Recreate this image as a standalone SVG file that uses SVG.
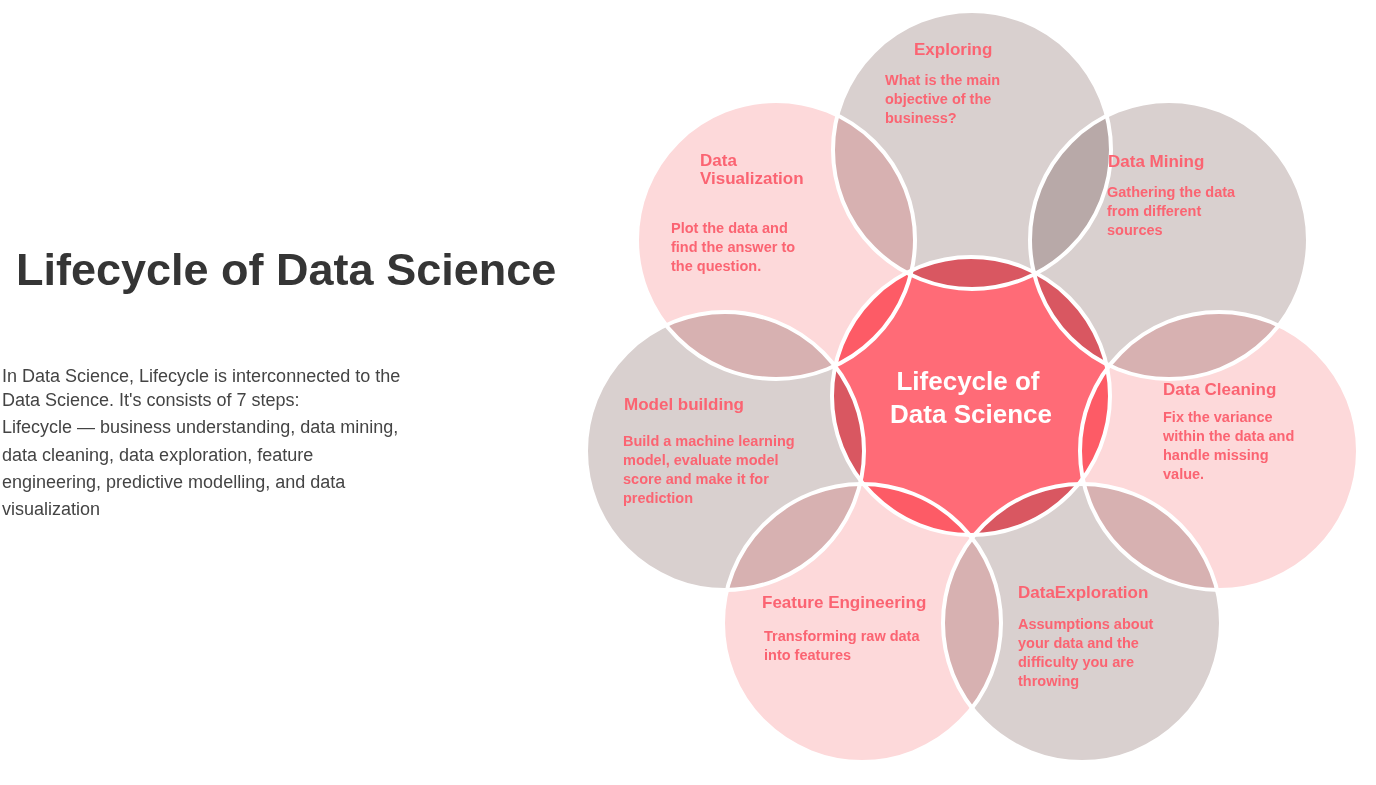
<svg xmlns="http://www.w3.org/2000/svg" width="1376" height="785" viewBox="0 0 1376 785">
<style>
.c{mix-blend-mode:multiply}
.g{fill:#d9d0cf}
.p{fill:#fdd9da}
.s{fill:none;stroke:#fff;stroke-width:4}
.h{font:bold 17px "Liberation Sans",Arial,sans-serif;fill:#fb6472}
.t{font:bold 14.5px "Liberation Sans",Arial,sans-serif;fill:#fb6472}
.b{font:18px "Liberation Sans",Arial,sans-serif;fill:#444}
</style>
<rect width="1376" height="785" fill="#fff"/>
<text x="16" y="285" style="font:bold 45px 'Liberation Sans',Arial,sans-serif;fill:#353535">Lifecycle of Data Science</text>
<g id="desc" class="b">
<text x="2" y="382">In Data Science, Lifecycle is interconnected to the</text>
<text x="2" y="406">Data Science. It's consists of 7 steps:</text>
<text x="2" y="433">Lifecycle — business understanding, data mining,</text>
<text x="2" y="461">data cleaning, data exploration, feature</text>
<text x="2" y="488">engineering, predictive modelling, and data</text>
<text x="2" y="515">visualization</text>
</g>
<g id="circles">
<circle id="exploring" class="c g" cx="972" cy="150" r="139"/>
<circle id="mining" class="c g" cx="1169" cy="240" r="139"/>
<circle id="cleaning" class="c p" cx="1219" cy="451" r="139"/>
<circle id="exploration" class="c g" cx="1082" cy="623" r="139"/>
<circle id="feature" class="c p" cx="862" cy="623" r="139"/>
<circle id="model" class="c g" cx="725" cy="451" r="139"/>
<circle id="viz" class="c p" cx="776" cy="240" r="139"/>
<circle id="center" class="c" cx="971" cy="396" r="139" fill="#ff6b77"/>
</g>
<g id="strokes">
<circle class="s" cx="972" cy="150" r="139"/>
<circle class="s" cx="1169" cy="240" r="139"/>
<circle class="s" cx="1219" cy="451" r="139"/>
<circle class="s" cx="1082" cy="623" r="139"/>
<circle class="s" cx="862" cy="623" r="139"/>
<circle class="s" cx="725" cy="451" r="139"/>
<circle class="s" cx="776" cy="240" r="139"/>
<circle class="s" cx="971" cy="396" r="139"/>
</g>
<g id="labels">
<text x="968" y="390" text-anchor="middle" style="font:bold 26px 'Liberation Sans',Arial,sans-serif;fill:#fff">Lifecycle of</text>
<text x="971" y="423" text-anchor="middle" style="font:bold 26px 'Liberation Sans',Arial,sans-serif;fill:#fff">Data Science</text>
<text class="h" x="914" y="55">Exploring</text>
<text class="t" x="885" y="85">What is the main</text><text class="t" x="885" y="104">objective of the</text><text class="t" x="885" y="123">business?</text>
<text class="h" x="1108" y="167">Data Mining</text>
<text class="t" x="1107" y="197">Gathering the data</text><text class="t" x="1107" y="216">from different</text><text class="t" x="1107" y="235">sources</text>
<text class="h" x="1163" y="395">Data Cleaning</text>
<text class="t" x="1163" y="422">Fix the variance</text><text class="t" x="1163" y="441">within the data and</text><text class="t" x="1163" y="460">handle missing</text><text class="t" x="1163" y="479">value.</text>
<text class="h" x="1018" y="598">DataExploration</text>
<text class="t" x="1018" y="629">Assumptions about</text><text class="t" x="1018" y="648">your data and the</text><text class="t" x="1018" y="667">difficulty you are</text><text class="t" x="1018" y="686">throwing</text>
<text class="h" x="762" y="608">Feature Engineering</text>
<text class="t" x="764" y="641">Transforming raw data</text><text class="t" x="764" y="660">into features</text>
<text class="h" x="624" y="410">Model building</text>
<text class="t" x="623" y="446">Build a machine learning</text><text class="t" x="623" y="465">model, evaluate model</text><text class="t" x="623" y="484">score and make it for</text><text class="t" x="623" y="503">prediction</text>
<text class="h" x="700" y="166">Data</text><text class="h" x="700" y="184">Visualization</text>
<text class="t" x="671" y="233">Plot the data and</text><text class="t" x="671" y="252">find the answer to</text><text class="t" x="671" y="271">the question.</text>
</g>
</svg>
